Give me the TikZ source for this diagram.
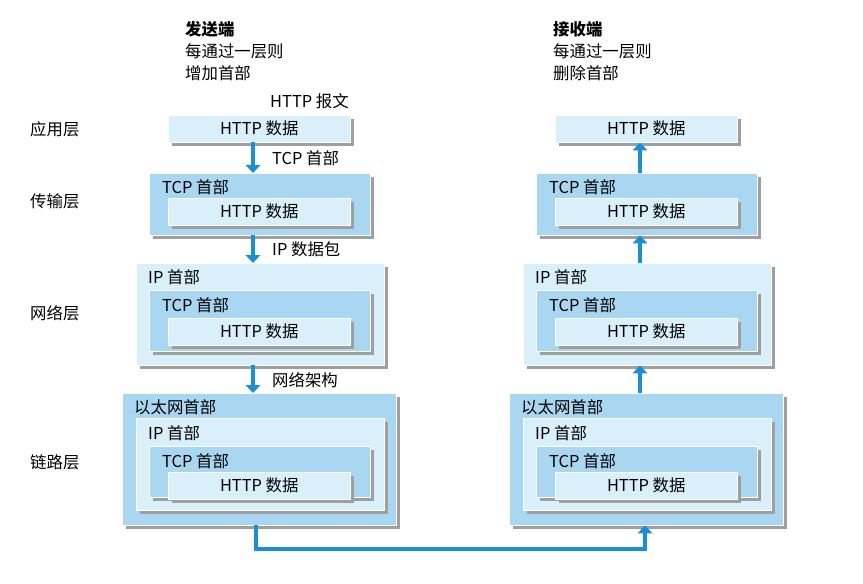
\documentclass[tikz,border=0pt]{standalone}
\usepackage{fontspec}
\setmainfont{Noto Sans CJK SC}
\usetikzlibrary{shadows,arrows.meta}
\definecolor{dk}{HTML}{A9D7F1}
\definecolor{lt}{HTML}{D9EFFA}
\definecolor{ar}{HTML}{1A8FD6}
\tikzset{
 bx/.style={anchor=north west,inner sep=0pt,draw=white,line width=0.4pt,
   drop shadow={shadow xshift=1mm,shadow yshift=-1mm,fill=gray!75,opacity=1}},
 hd/.style={anchor=north west,inner sep=0pt,font=\fontsize{14}{16}\selectfont},
 tx/.style={inner sep=0pt,font=\fontsize{14}{16}\selectfont},
 arr/.style={draw=ar,line width=1.4mm,-{Triangle[length=2.4mm,width=4.4mm]}},
}
\begin{document}
\begin{tikzpicture}[x=0.03cm,y=-0.03cm]
\useasboundingbox (0,0) rectangle (863,583);
\def\U{0.03cm}
% headings
\node[tx,anchor=west,font=\fontsize{14}{16}\selectfont\bfseries] (sndT) at (185,29) {发送端};
\node[tx,anchor=west] (snd1) at (185,51) {每通过一层则};
\node[tx,anchor=west] (snd2) at (185,73) {增加首部};
\node[tx,anchor=west,font=\fontsize{14}{16}\selectfont\bfseries] (rcvT) at (553,29) {接收端};
\node[tx,anchor=west] (rcv1) at (553,51) {每通过一层则};
\node[tx,anchor=west] (rcv2) at (553,73) {删除首部};
\node[tx,anchor=west] (msg) at (270,101) {HTTP 报文};
\node[tx,anchor=west] (L1) at (30,129) {应用层};
\node[tx,anchor=west] (L2) at (30,201) {传输层};
\node[tx,anchor=west] (L3) at (30,313) {网络层};
\node[tx,anchor=west] (L4) at (30,462) {链路层};
\foreach \s/\o in {L/0,R/387}{
 \node[bx,fill=lt,minimum width=182*\U,minimum height=27*\U] (a\s) at (168+\o,115) {};
 \node[tx] at (a\s) {HTTP 数据};
 \node[bx,fill=dk,minimum width=221*\U,minimum height=62*\U] (t\s) at (149+\o,173) {};
 \node[hd] at (162+\o,179) {TCP 首部};
 \node[bx,fill=lt,minimum width=182*\U,minimum height=27*\U] (th\s) at (168+\o,198) {};
 \node[tx] at (th\s) {HTTP 数据};
 \node[bx,fill=lt,minimum width=248*\U,minimum height=102*\U] (n\s) at (136+\o,263) {};
 \node[hd] at (148+\o,269) {IP 首部};
 \node[bx,fill=dk,minimum width=221*\U,minimum height=61*\U] (nt\s) at (149+\o,290) {};
 \node[hd] at (162+\o,297) {TCP 首部};
 \node[bx,fill=lt,minimum width=182*\U,minimum height=27*\U] (nh\s) at (168+\o,318) {};
 \node[tx] at (nh\s) {HTTP 数据};
 \node[bx,fill=dk,minimum width=274*\U,minimum height=132*\U] (e\s) at (122+\o,393) {};
 \node[hd] at (134+\o,399) {以太网首部};
 \node[bx,fill=lt,minimum width=248*\U,minimum height=92*\U] (ei\s) at (136+\o,418) {};
 \node[hd] at (148+\o,425) {IP 首部};
 \node[bx,fill=dk,minimum width=221*\U,minimum height=51*\U] (et\s) at (149+\o,446) {};
 \node[hd] at (162+\o,453) {TCP 首部};
 \node[bx,fill=lt,minimum width=182*\U,minimum height=27*\U] (eh\s) at (168+\o,472) {};
 \node[tx] at (eh\s) {HTTP 数据};
}
\draw[arr] (aL.south -| 253,0) -- (tL.north -| 253,0);
\draw[arr] (tL.south -| 253,0) -- (nL.north -| 253,0);
\draw[arr] (nL.south -| 253,0) -- (eL.north -| 253,0);
\node[tx,anchor=west] (c1) at (272,158) {TCP 首部};
\node[tx,anchor=west] (c2) at (272,249) {IP 数据包};
\node[tx,anchor=west] (c3) at (272,380) {网络架构};
\draw[arr] (tR.north -| 640,0) -- (aR.south -| 640,0);
\draw[arr] (nR.north -| 640,0) -- (tR.south -| 640,0);
\draw[arr] (eR.north -| 640,0) -- (nR.south -| 640,0);
\coordinate (b1) at (256,549);
\coordinate (b2) at (645,549);
\draw[arr] (eL.south -| 256,0) -- (b1) -- (b2) -- (eR.south -| 645,0);
\end{tikzpicture}
\end{document}
